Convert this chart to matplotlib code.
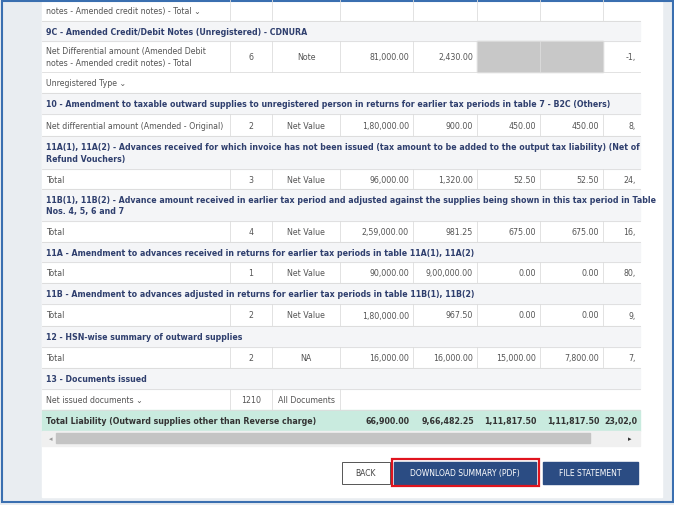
import matplotlib
matplotlib.use("Agg")
import matplotlib.pyplot as plt
from matplotlib.patches import Rectangle

# ---- data ----
headers = [
    "9C - Amended Credit/Debit Notes (Unregistered) - CDNURA",
    "10 - Amendment to taxable outward supplies to unregistered person in returns for earlier tax periods in table 7 - B2C (Others)",
    "11A(1), 11A(2) - Advances received for which invoice has not been issued (tax amount to be added to the output tax liability) (Net of\nRefund Vouchers)",
    "11B(1), 11B(2) - Advance amount received in earlier tax period and adjusted against the supplies being shown in this tax period in Table\nNos. 4, 5, 6 and 7",
    "11A - Amendment to advances received in returns for earlier tax periods in table 11A(1), 11A(2)",
    "11B - Amendment to advances adjusted in returns for earlier tax periods in table 11B(1), 11B(2)",
    "12 - HSN-wise summary of outward supplies",
    "13 - Documents issued",
]
row_labels = ["Net Differential amount (Amended Debit\nnotes - Amended credit notes) - Total",
              "Net differential amount (Amended - Original)", "Total", "Total", "Total", "Total", "Total",
              "Net issued documents \u2304"]
row_counts = ["6", "2", "3", "4", "1", "2", "2", "1210"]
row_types = ["Note", "Net Value", "Net Value", "Net Value", "Net Value", "Net Value", "NA", "All Documents"]
val_taxable = ["81,000.00", "1,80,000.00", "96,000.00", "2,59,000.00", "90,000.00", "1,80,000.00", "16,000.00", ""]
val_igst = ["2,430.00", "900.00", "1,320.00", "981.25", "9,00,000.00", "967.50", "16,000.00", ""]
val_cgst = ["", "450.00", "52.50", "675.00", "0.00", "0.00", "15,000.00", ""]
val_sgst = ["", "450.00", "52.50", "675.00", "0.00", "0.00", "7,800.00", ""]
val_cess = ["-1,", "8,", "24,", "16,", "80,", "9,", "7,", ""]
total_label = "Total Liability (Outward supplies other than Reverse charge)"
total_vals = ["66,900.00", "9,66,482.25", "1,11,817.50", "1,11,817.50", "23,02,0"]
buttons = ["BACK", "DOWNLOAD SUMMARY (PDF)", "FILE STATEMENT"]

W, H = 674, 506
fig = plt.figure(figsize=(W/100, H/100), dpi=100)
ax = fig.add_axes([0, 0, 1, 1])
ax.set_xlim(0, W); ax.set_ylim(H, 0); ax.axis("off")

NAVY = "#2f3f6e"; GREY_T = "#555555"; LINE = "#dddddd"; FS = 5.7
ax.add_patch(Rectangle((0, 0), W, H, color="#e9edf1"))
ax.add_patch(Rectangle((42, 0), 620, 498, color="white"))
ax.add_patch(Rectangle((1.5, 1.5), W-3, H-5, fill=False, ec="#3a6fb0", lw=1.5))

TL, TR = 42, 640
clip = Rectangle((TL, 0), TR-TL, H, transform=ax.transData)
cols = [42, 230, 272, 340, 413, 477, 540, 603, 640]

def txt(x, y, s, **kw):
    t = ax.text(x, y, s, fontsize=kw.pop("fs", FS), va="center", **kw)
    t.set_clip_path(clip)
    return t

def hline(y):
    ax.plot([TL, TR], [y, y], color=LINE, lw=0.6)

def data_row(y0, y1, lab, cnt, typ, vals, grey=(), vlast=True):
    ncols = cols if vlast else cols[:4]
    for x in ncols[1:-1] if vlast else ncols[1:]:
        ax.plot([x, x], [y0, y1], color=LINE, lw=0.6)
    for i in grey:
        ax.add_patch(Rectangle((cols[3+i], y0), cols[4+i]-cols[3+i], y1-y0, color="#c8c8c8"))
    ym = (y0+y1)/2
    txt(46, ym, lab, color=GREY_T, linespacing=1.4)
    txt((cols[1]+cols[2])/2, ym, cnt, color=GREY_T, ha="center")
    txt((cols[2]+cols[3])/2, ym, typ, color=GREY_T, ha="center")
    for i, v in enumerate(vals):
        if v:
            txt(cols[4+i]-4, ym, v, color=GREY_T, ha="right")
    hline(y1)

data_row(0, 22, "notes - Amended credit notes) - Total \u2304", "", "", [])
hr = [(22, 42), (94, 115), (137, 170), (190, 222), (243, 263), (284, 305), (327, 348), (369, 390)]
dr = [(42, 73), (115, 137), (170, 190), (222, 243), (263, 284), (305, 327), (348, 369), (390, 411)]
for i, ((a, b), (c, d)) in enumerate(zip(hr, dr)):
    ax.add_patch(Rectangle((TL, a), TR-TL, b-a, color="#f4f5f7"))
    txt(46, (a+b)/2, headers[i], color=NAVY, fontweight="bold", linespacing=1.4)
    hline(a); hline(b)
    vals = [val_taxable[i], val_igst[i], val_cgst[i], val_sgst[i], val_cess[i]]
    data_row(c, d, row_labels[i], row_counts[i], row_types[i], vals,
             grey=(2, 3) if i == 0 else (), vlast=(i != 7))
txt(46, 83.5, "Unregistered Type \u2304", color=GREY_T); hline(94)
ax.add_patch(Rectangle((TL, 411), TR-TL, 21, color="#c9ebdf"))
txt(46, 421.5, total_label, color="#333333", fontweight="bold")
for i, v in enumerate(total_vals):
    txt(cols[4+i]-3, 421.5, v, color="#333333", fontweight="bold", ha="right")
ax.add_patch(Rectangle((TL, 432), TR-TL, 15, color="#f0f0f0"))
ax.add_patch(Rectangle((56, 434), 534, 10, color="#c4c4c4"))
txt(49, 439.5, "\u25c2", color="#999999", fs=5); txt(628, 439.5, "\u25b8", color="#333333", fs=5)
ax.add_patch(Rectangle((342, 463), 48, 22, fc="white", ec="#555555", lw=0.7))
ax.text(366, 474, buttons[0], fontsize=5.5, ha="center", va="center", color="#444444")
ax.add_patch(Rectangle((394, 463), 142, 22, color="#2b4c83"))
ax.text(465, 474, buttons[1], fontsize=5.5, ha="center", va="center", color="white")
ax.add_patch(Rectangle((391.5, 459.5), 147, 27, fill=False, ec="#e0141e", lw=1.6))
ax.add_patch(Rectangle((543, 463), 95, 22, color="#2b4c83"))
ax.text(590.5, 474, buttons[2], fontsize=5.5, ha="center", va="center", color="white")

fig.savefig("out.png", dpi=100)
